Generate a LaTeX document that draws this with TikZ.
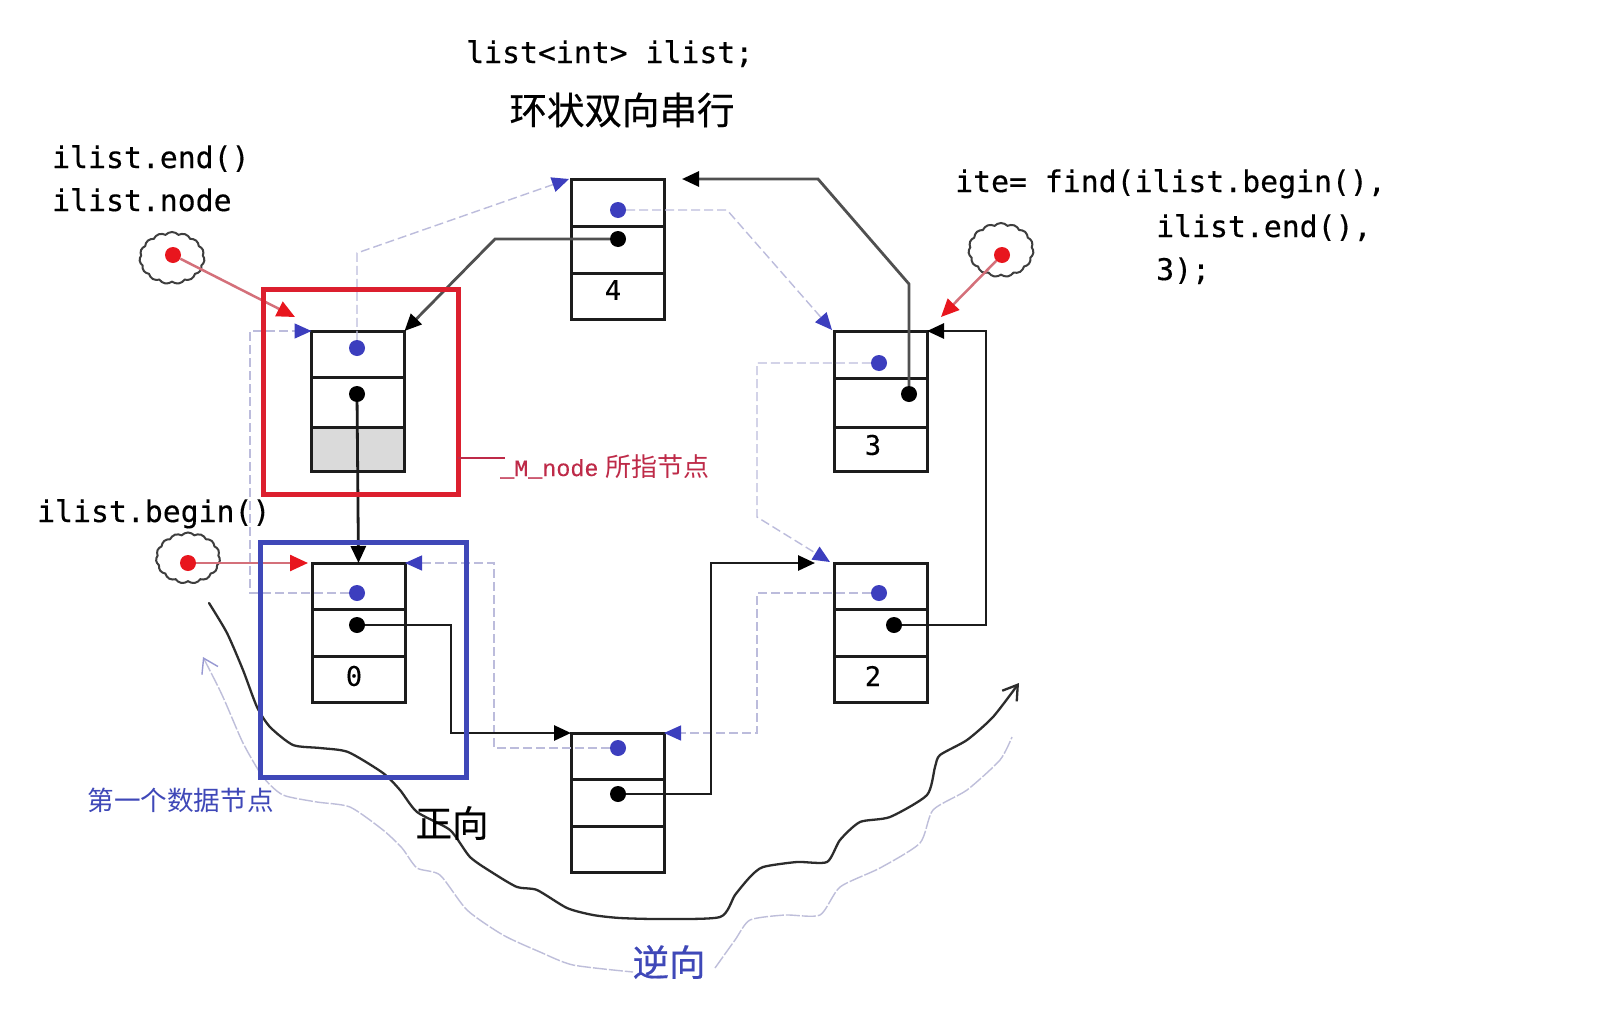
\documentclass[tikz,border=0pt]{standalone}
\usepackage{fontspec}
\setmonofont[FakeBold=0.35]{DejaVu Sans Mono}
\newfontfamily\cjkf{Noto Sans CJK SC}
\newfontfamily\cjkb[FakeBold=0.5]{Noto Sans CJK SC}
\newfontfamily\slabf[FakeBold=0.2]{Liberation Mono}
\usetikzlibrary{arrows.meta,shapes.symbols}
\definecolor{nodeink}{HTML}{1C1C1C}
\definecolor{dashink}{HTML}{BCBCDC}
\definecolor{blueink}{HTML}{3C3EBE}
\definecolor{boxblue}{HTML}{3F48B8}
\definecolor{boxred}{HTML}{DC1F2E}
\definecolor{redink}{HTML}{E8161E}
\definecolor{redline}{HTML}{D4707A}
\definecolor{labred}{HTML}{BE2A48}
\definecolor{greyink}{HTML}{505050}
\definecolor{cellgrey}{HTML}{DADADA}
\definecolor{wavepale}{HTML}{BEBEDA}
\definecolor{waveink}{HTML}{2C2C2C}
\tikzset{
  cell/.style={draw=nodeink,line width=3pt,inner sep=0pt,outer sep=0pt,minimum width=93pt},
  bdot/.style={circle,fill=blueink,inner sep=0pt,minimum size=16pt},
  kdot/.style={circle,fill=black,inner sep=0pt,minimum size=16pt},
  rdot/.style={circle,fill=redink,inner sep=0pt,minimum size=16pt},
  puff/.style={cloud,cloud puffs=15,cloud puff arc=95,draw=nodeink!85,line width=2pt,inner sep=0pt,aspect=1.25},
  nextline/.style={draw=nodeink,line width=2.8pt,-{Triangle[length=17pt,width=15pt,fill=black,color=black]}},
  greyline/.style={nextline,draw=greyink},
  prevline/.style={draw=dashink,line width=1.4pt,dash pattern=on 9pt off 4pt,-{Triangle[length=17pt,width=15pt,fill=blueink,color=blueink]}},
  redarrow/.style={draw=redline,line width=2.5pt,-{Triangle[length=18pt,width=16pt,fill=redink,color=redink]}},
  code/.style={inner sep=0pt,anchor=base west,font=\ttfamily\fontsize{29.8}{30}\selectfont,text=black},
  digit/.style={inner sep=0pt,font=\ttfamily\fontsize{27}{28}\selectfont,text=black},
  thickbox/.style={draw,line width=5pt,inner sep=0pt,outer sep=0pt,fill=none},
  wave/.style={line width=2.3pt,draw=waveink,line cap=round},
  pale/.style={line width=1.4pt,draw=wavepale,dash pattern=on 14pt off 2pt},
}
\newcommand{\listcells}[7][]{%
  \pgfmathsetmacro\hA{#5-#4}\pgfmathsetmacro\cA{(#5+#4)/2}%
  \pgfmathsetmacro\hB{#6-#5}\pgfmathsetmacro\cB{(#6+#5)/2}%
  \pgfmathsetmacro\hC{#7-#6}\pgfmathsetmacro\cC{(#7+#6)/2}%
  \node[cell,minimum height=\hA pt] (#2a) at (#3,\cA) {};
  \node[cell,minimum height=\hB pt] (#2b) at (#3,\cB) {};
  \node[cell,minimum height=\hC pt,#1] (#2c) at (#3,\cC) {};
}
\begin{document}
\begin{tikzpicture}[x=1pt,y=-1pt]
\useasboundingbox[fill=white] (0,0) rectangle (1601,1017);

% free ends and bends
\coordinate (tipA) at (295,317);
\coordinate (tipB) at (941,317);
\coordinate (tipC) at (308,563);
\coordinate (tipBlue3) at (832,330);
\coordinate (tipBlue2) at (830,562);
\coordinate (tipBlue4) at (569,179);
\coordinate (tipK2) at (815,563);
\coordinate (tipK4) at (682,179);
\coordinate (mtick) at (505,458);

% list nodes
\listcells[fill=cellgrey]{nm}{358}{331}{377}{427}{471}
\listcells{nf}{617.5}{179}{226}{273}{319}
\listcells{nt}{880.5}{331}{378}{427}{471}
\listcells{nz}{358.5}{563}{609}{656}{702}
\listcells{ns}{880.5}{563}{609}{656}{702}
\listcells{nb}{617.5}{733}{779}{826}{872}

% dots
\node[bdot] (bm) at (357,348) {};
\node[kdot] (km) at (357,394) {};
\node[bdot] (bf) at (618,210) {};
\node[kdot] (kf) at (618,239) {};
\node[bdot] (bt) at (879,363) {};
\node[kdot] (kt) at (909,394) {};
\node[bdot] (bz) at (357,593) {};
\node[kdot] (kz) at (357,625) {};
\node[bdot] (bs) at (879,593) {};
\node[kdot] (ks) at (894,625) {};
\node[bdot] (bb) at (618,748) {};
\node[kdot] (kb) at (618,794) {};

% cell values
\node[digit] (v4) at (613,290) {4};
\node[digit] (v3) at (873,445) {3};
\node[digit] (v0) at (354,676) {0};
\node[digit] (v2) at (873,676) {2};

% clouds
\node[puff,minimum width=65pt,minimum height=52pt] (cla) at (172,258) {};
\node[puff,minimum width=65pt,minimum height=54pt] (clb) at (1001,250) {};
\node[puff,minimum width=64pt,minimum height=51pt] (clc) at (188,558) {};
\node[rdot] (ra) at (173,255) {};
\node[rdot] (rb) at (1002,255) {};
\node[rdot] (rc) at (188,563) {};

% backward links (dashed)
\draw[prevline] (bm) -- (357,253) -- (tipBlue4);
\draw[prevline] (bf) -- (727,210) -- (tipBlue3);
\draw[prevline] (bt) -- (757,363) -- (757,517) -- (tipBlue2);
\draw[prevline] (bs) -- (757,593) -- (757,733) -- (nba.north east);
\draw[prevline] (bb) -- (494,748) -- (494,563) -- (nza.north east);
\draw[prevline] (bz) -- (250,593) -- (250,331) -- (nma.north west);

% forward links
\draw[greyline] (kf) -- (495,239) -- (nma.north east);
\draw[nextline] (km) -- (nza.north);
\draw[nextline] (kz) -- (451,625) -- (451,733) -- (nba.north west);
\draw[nextline] (kb) -- (711,794) -- (711,563) -- (tipK2);
\draw[nextline] (ks) -- (986,625) -- (986,331) -- (nta.north east);
\draw[greyline] (kt) -- (909,284) -- (818,179) -- (tipK4);

% red pointers
\draw[redarrow] (ra) -- (tipA);
\draw[redarrow] (rb) -- (tipB);
\draw[redarrow] (rc) -- (tipC);

% wavy direction arrows
\draw[wave,-{Straight Barb[length=14pt,width=18pt]}] plot[smooth,tension=.4] coordinates {
 (209,603) (227,633) (243,670) (257,707) (270,727) (293,745) (320,748) (348,752) (383,773)
 (400,790) (417,812) (450,830) (470,857) (493,873) (517,887) (537,890) (567,908) (593,915)
 (620,918) (660,919) (720,917) (735,895) (750,877) (763,867) (797,862) (827,862) (840,840)
 (860,822) (890,817) (927,795) (935,767) (940,755) (967,740) (993,717) (1019,683)};
\draw[pale,{Straight Barb[length=14pt,width=18pt,color=wavepale!70!blueink]}-] plot[smooth,tension=.4] coordinates {
 (203,657) (223,697) (243,743) (263,777) (283,795) (317,802) (350,807) (383,830) (402,848)
 (417,868) (440,875) (467,910) (503,935) (540,952) (573,965) (633,972)};
\draw[pale] plot[smooth,tension=.4] coordinates {
 (715,968) (735,940) (750,920) (785,915) (820,915) (840,887) (880,868) (920,843) (933,810)
 (967,790) (1000,760) (1012,737)};

% highlight boxes
\node[thickbox,draw=boxred,minimum width=195pt,minimum height=205pt] (redbox) at (360.5,391.5) {};
\node[thickbox,draw=boxblue,minimum width=206pt,minimum height=235pt] (bluebox) at (363.5,660) {};
\draw[draw=labred,line width=1.6pt] (redbox.east |- mtick) -- (mtick);

% texts
\node[code] (t1) at (466,63) {list<int> ilist;};
\node[inner sep=0pt,font=\cjkb\fontsize{37.5}{38}\selectfont] (t2) at (622,110) {环状双向串行};
\node[code] (t3) at (52,168) {ilist.end()};
\node[code] (t4) at (52,211) {ilist.node};
\node[code] (t5) at (37,522) {ilist.begin()};
\node[code] (t6) at (955,192) {ite= find(ilist.begin(),};
\node[code] (t7) at (1156,237) {ilist.end(),};
\node[code] (t8) at (1156,280) {3);};
\node[inner sep=0pt,anchor=base west,text=labred] (t9) at (500,476) {{\slabf\fontsize{23.4}{24}\selectfont\_M\_node}\hspace{7pt}{\cjkf\fontsize{26}{27}\selectfont 所指节点}};
\node[inner sep=0pt,text=boxblue,font=\cjkf\fontsize{26.6}{27}\selectfont] (t10) at (180.5,800) {第一个数据节点};
\node[inner sep=0pt,text=black,font=\cjkb\fontsize{36.5}{37}\selectfont] (t11) at (452,823) {正向};
\node[inner sep=0pt,text=boxblue,font=\cjkb\fontsize{36.5}{37}\selectfont] (t12) at (669,962) {逆向};
\end{tikzpicture}
\end{document}
